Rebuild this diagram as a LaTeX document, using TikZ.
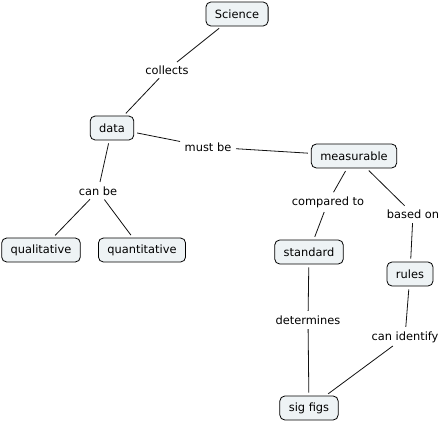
\documentclass[tikz,border=0pt]{standalone}
\usepackage{fontspec}
\setmainfont{DejaVu Sans}
\usetikzlibrary{positioning}
\definecolor{conceptfill}{HTML}{EEF3F5}
\definecolor{linkline}{HTML}{111111}

\begin{document}
\begin{tikzpicture}[x=1pt, y=-1pt, font=\fontsize{11.4}{13}\selectfont,
  concept/.style={draw=black, rounded corners=5pt, fill=conceptfill,
    inner xsep=9pt, inner ysep=0pt, minimum height=24pt, line width=0.8pt},
  link/.style={inner sep=1.5pt},
  conn/.style={draw=linkline, line width=0.8pt, shorten <=3pt, shorten >=3pt}]

\useasboundingbox (0,0) rectangle (444,423);

% Create the concept nodes
\foreach \n/\t/\x/\y in {science/Science/237/14, data/data/112/128,
    measurable/measurable/354/156, qualitative/qualitative/41/250,
    quantitative/quantitative/142/250, standard/standard/309/252,
    rules/rules/410/274, sigfigs/sig figs/309/408}
  \node [concept] (\n) at (\x,\y) {\t};

% Create the linking phrases
\foreach \n/\t/\x/\y in {collects/collects/167/70, mustbe/must be/208/147,
    canbe/can be/98/191, comparedto/compared to/328/202,
    basedon/based on/413/214, determines/determines/308/320,
    canidentify/can identify/405/337}
  \node [link] (\n) at (\x,\y) {\t};

% Connect the concepts through the phrases
\foreach \a/\b/\c in {science/collects/data, data/mustbe/measurable,
    measurable/comparedto/standard, measurable/basedon/rules,
    standard/determines/sigfigs, rules/canidentify/sigfigs}
{
  \draw [conn] (\a) -- (\b);
  \draw [conn] (\b) -- (\c);
}

% Data branches to its two kinds
\draw [conn] (data) -- (canbe);
\foreach \k in {qualitative, quantitative}
  \draw [conn] (canbe) -- (\k);

\end{tikzpicture}
\end{document}
